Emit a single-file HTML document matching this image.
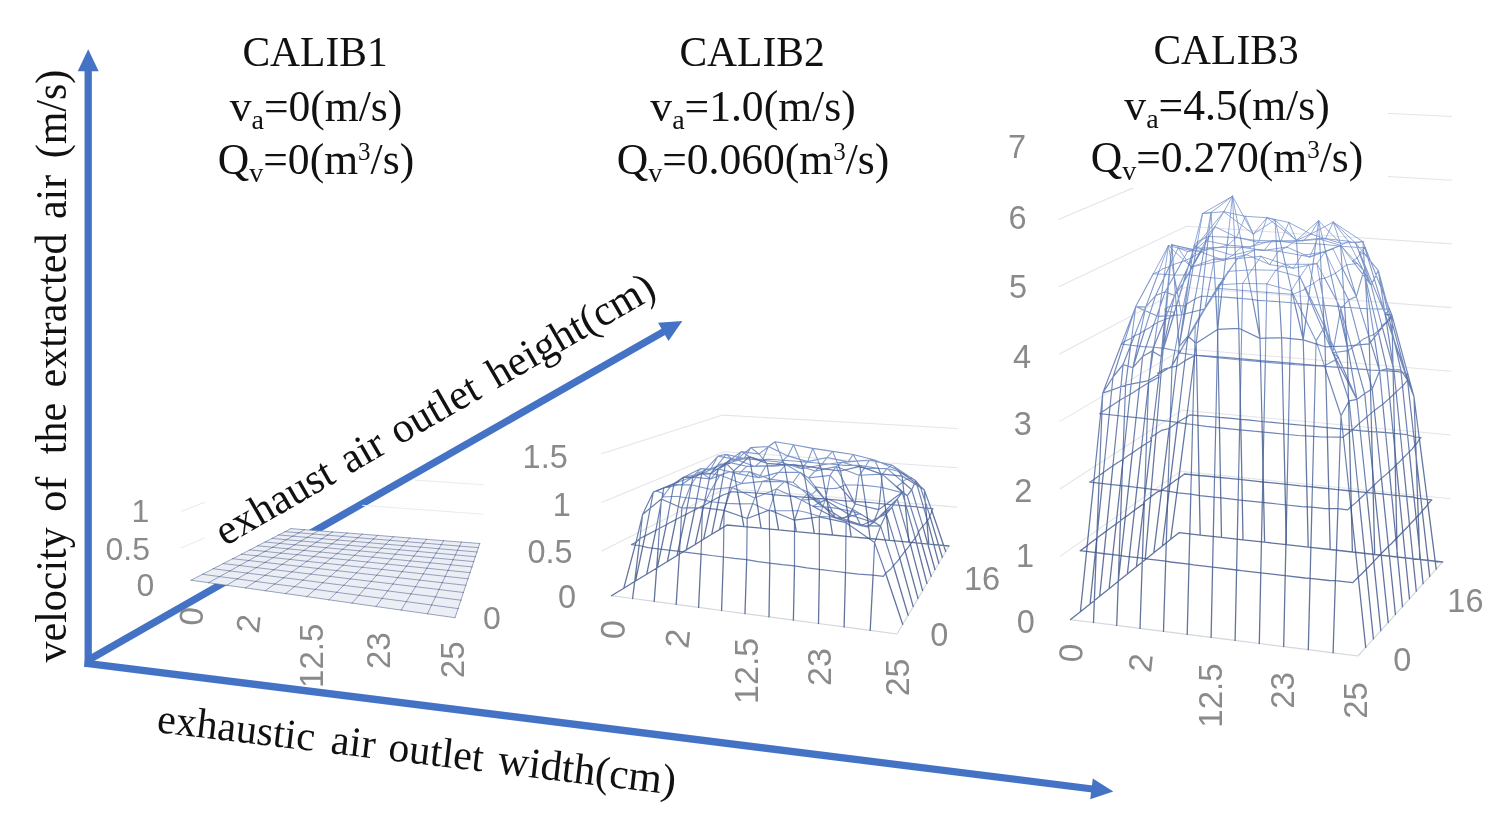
<!DOCTYPE html>
<html lang="en">
<head>
<meta charset="utf-8">
<title>Velocity of the extracted air - CALIB1, CALIB2, CALIB3</title>
<style>
html,body{margin:0;padding:0;background:#fff;}
body{width:1504px;height:819px;overflow:hidden;}
svg{display:block;}
text{white-space:pre;}
</style>
</head>
<body>
<svg width="1504" height="819" viewBox="0 0 1504 819">
<rect width="1504" height="819" fill="#fff"/>
<g id="axes">
<line x1="88.2" y1="667" x2="88.2" y2="70.3" stroke="#4472c4" stroke-width="7.3"/><polygon points="88.2,49.3 98.7,71.3 77.7,71.3" fill="#4472c4"/>
<line x1="87.6" y1="660.5" x2="664.2" y2="331.3" stroke="#4472c4" stroke-width="7.3"/><polygon points="682.4,320.9 668.5,340.9 658.1,322.7" fill="#4472c4"/>
<line x1="84.5" y1="663.1" x2="1092.5" y2="789" stroke="#4472c4" stroke-width="7.3"/><polygon points="1113.3,791.6 1090.2,799.3 1092.8,778.5" fill="#4472c4"/>
</g>
<g id="chart1">
<path d="M181 547.9L204.7 537.7M362.2 505.3L483.8 514.2" fill="none" stroke="#ebecf0" stroke-width="1.1"/>
<path d="M181 511.4L204.7 502.3M415.1 480.1L483.8 484.7" fill="none" stroke="#ebecf0" stroke-width="1.1"/>
<polygon points="191,580.2 455,617.7 479.8,543.5 291,528.6" fill="#eceef5"/>
<path d="M191 580.2L208.5 582.7M208.5 582.7L226.7 585.3M226.7 585.3L245.5 587.9M245.5 587.9L265.2 590.7M265.2 590.7L285.5 593.6M285.5 593.6L306.8 596.6M306.8 596.6L328.9 599.8M328.9 599.8L352 603.1M352 603.1L376 606.5M376 606.5L401.2 610.1M401.2 610.1L427.5 613.8M427.5 613.8L455 617.7M202.5 574.3L219.6 576.6M219.6 576.6L237.3 578.9M237.3 578.9L255.7 581.4M255.7 581.4L274.8 584M274.8 584L294.6 586.6M294.6 586.6L315.2 589.4M315.2 589.4L336.6 592.3M336.6 592.3L358.9 595.3M358.9 595.3L382.1 598.4M382.1 598.4L406.4 601.6M406.4 601.6L431.6 605M431.6 605L458.1 608.6M213.2 568.7L229.9 570.9M229.9 570.9L247.2 573.1M247.2 573.1L265.1 575.3M265.1 575.3L283.7 577.7M283.7 577.7L303 580.1M303 580.1L322.9 582.7M322.9 582.7L343.7 585.3M343.7 585.3L365.3 588M365.3 588L387.7 590.9M387.7 590.9L411.1 593.9M411.1 593.9L435.5 596.9M435.5 596.9L460.9 600.2M223.2 563.6L239.6 565.5M239.6 565.5L256.4 567.6M256.4 567.6L273.9 569.7M273.9 569.7L292 571.8M292 571.8L310.7 574.1M310.7 574.1L330.2 576.4M330.2 576.4L350.3 578.9M350.3 578.9L371.2 581.4M371.2 581.4L392.9 584M392.9 584L415.5 586.7M415.5 586.7L439 589.5M439 589.5L463.4 592.5M232.6 558.7L248.6 560.5M248.6 560.5L265.1 562.4M265.1 562.4L282.1 564.4M282.1 564.4L299.8 566.4M299.8 566.4L318 568.5M318 568.5L336.9 570.6M336.9 570.6L356.4 572.9M356.4 572.9L376.7 575.2M376.7 575.2L397.7 577.6M397.7 577.6L419.6 580.1M419.6 580.1L442.2 582.7M442.2 582.7L465.8 585.3M241.5 554.2L257.1 555.8M257.1 555.8L273.2 557.6M273.2 557.6L289.8 559.4M289.8 559.4L307 561.3M307 561.3L324.8 563.2M324.8 563.2L343.1 565.2M343.1 565.2L362.2 567.3M362.2 567.3L381.8 569.4M381.8 569.4L402.2 571.6M402.2 571.6L423.3 573.9M423.3 573.9L445.3 576.3M445.3 576.3L468 578.8M249.8 549.9L265.1 551.4M265.1 551.4L280.8 553.1M280.8 553.1L297.1 554.7M297.1 554.7L313.8 556.5M313.8 556.5L331.1 558.3M331.1 558.3L349 560.1M349 560.1L367.5 562M367.5 562L386.6 564M386.6 564L406.4 566.1M406.4 566.1L426.9 568.2M426.9 568.2L448.1 570.4M448.1 570.4L470.1 572.6M257.6 545.8L272.6 547.3M272.6 547.3L288 548.8M288 548.8L303.9 550.4M303.9 550.4L320.2 552M320.2 552L337.1 553.6M337.1 553.6L354.5 555.4M354.5 555.4L372.5 557.1M372.5 557.1L391.1 559M391.1 559L410.3 560.9M410.3 560.9L430.1 562.8M430.1 562.8L450.7 564.8M450.7 564.8L472 566.9M265.1 542L279.7 543.4M279.7 543.4L294.8 544.8M294.8 544.8L310.3 546.2M310.3 546.2L326.2 547.7M326.2 547.7L342.7 549.3M342.7 549.3L359.7 550.9M359.7 550.9L377.2 552.5M377.2 552.5L395.3 554.2M395.3 554.2L413.9 556M413.9 556L433.2 557.8M433.2 557.8L453.1 559.7M453.1 559.7L473.7 561.6M272.1 538.4L286.4 539.7M286.4 539.7L301.1 541M301.1 541L316.3 542.3M316.3 542.3L331.9 543.8M331.9 543.8L348 545.2M348 545.2L364.5 546.7M364.5 546.7L381.6 548.2M381.6 548.2L399.2 549.8M399.2 549.8L417.4 551.4M417.4 551.4L436.1 553.1M436.1 553.1L455.4 554.9M455.4 554.9L475.4 556.7M278.7 534.9L292.8 536.2M292.8 536.2L307.2 537.4M307.2 537.4L322 538.7M322 538.7L337.3 540M337.3 540L353 541.3M353 541.3L369.1 542.7M369.1 542.7L385.8 544.2M385.8 544.2L402.9 545.6M402.9 545.6L420.6 547.1M420.6 547.1L438.8 548.7M438.8 548.7L457.6 550.3M457.6 550.3L477 552M285 531.7L298.8 532.8M298.8 532.8L312.9 534M312.9 534L327.4 535.2M327.4 535.2L342.3 536.4M342.3 536.4L357.7 537.7M357.7 537.7L373.5 539M373.5 539L389.7 540.3M389.7 540.3L406.4 541.7M406.4 541.7L423.6 543.1M423.6 543.1L441.3 544.6M441.3 544.6L459.6 546.1M459.6 546.1L478.4 547.6M291 528.6L304.5 529.7M304.5 529.7L318.3 530.8M318.3 530.8L332.6 531.9M332.6 531.9L347.2 533M347.2 533L362.1 534.2M362.1 534.2L377.6 535.4M377.6 535.4L393.4 536.7M393.4 536.7L409.7 538M409.7 538L426.5 539.3M426.5 539.3L443.7 540.7M443.7 540.7L461.5 542.1M461.5 542.1L479.8 543.5M191 580.2L202.5 574.3M202.5 574.3L213.2 568.7M213.2 568.7L223.2 563.6M223.2 563.6L232.6 558.7M232.6 558.7L241.5 554.2M241.5 554.2L249.8 549.9M249.8 549.9L257.6 545.8M257.6 545.8L265.1 542M265.1 542L272.1 538.4M272.1 538.4L278.7 534.9M278.7 534.9L285 531.7M285 531.7L291 528.6M208.5 582.7L219.6 576.6M219.6 576.6L229.9 570.9M229.9 570.9L239.6 565.5M239.6 565.5L248.6 560.5M248.6 560.5L257.1 555.8M257.1 555.8L265.1 551.4M265.1 551.4L272.6 547.3M272.6 547.3L279.7 543.4M279.7 543.4L286.4 539.7M286.4 539.7L292.8 536.2M292.8 536.2L298.8 532.8M298.8 532.8L304.5 529.7M226.7 585.3L237.3 578.9M237.3 578.9L247.2 573.1M247.2 573.1L256.4 567.6M256.4 567.6L265.1 562.4M265.1 562.4L273.2 557.6M273.2 557.6L280.8 553.1M280.8 553.1L288 548.8M288 548.8L294.8 544.8M294.8 544.8L301.1 541M301.1 541L307.2 537.4M307.2 537.4L312.9 534M312.9 534L318.3 530.8M245.5 587.9L255.7 581.4M255.7 581.4L265.1 575.3M265.1 575.3L273.9 569.7M273.9 569.7L282.1 564.4M282.1 564.4L289.8 559.4M289.8 559.4L297.1 554.7M297.1 554.7L303.9 550.4M303.9 550.4L310.3 546.2M310.3 546.2L316.3 542.3M316.3 542.3L322 538.7M322 538.7L327.4 535.2M327.4 535.2L332.6 531.9M265.2 590.7L274.8 584M274.8 584L283.7 577.7M283.7 577.7L292 571.8M292 571.8L299.8 566.4M299.8 566.4L307 561.3M307 561.3L313.8 556.5M313.8 556.5L320.2 552M320.2 552L326.2 547.7M326.2 547.7L331.9 543.8M331.9 543.8L337.3 540M337.3 540L342.3 536.4M342.3 536.4L347.2 533M285.5 593.6L294.6 586.6M294.6 586.6L303 580.1M303 580.1L310.7 574.1M310.7 574.1L318 568.5M318 568.5L324.8 563.2M324.8 563.2L331.1 558.3M331.1 558.3L337.1 553.6M337.1 553.6L342.7 549.3M342.7 549.3L348 545.2M348 545.2L353 541.3M353 541.3L357.7 537.7M357.7 537.7L362.1 534.2M306.8 596.6L315.2 589.4M315.2 589.4L322.9 582.7M322.9 582.7L330.2 576.4M330.2 576.4L336.9 570.6M336.9 570.6L343.1 565.2M343.1 565.2L349 560.1M349 560.1L354.5 555.4M354.5 555.4L359.7 550.9M359.7 550.9L364.5 546.7M364.5 546.7L369.1 542.7M369.1 542.7L373.5 539M373.5 539L377.6 535.4M328.9 599.8L336.6 592.3M336.6 592.3L343.7 585.3M343.7 585.3L350.3 578.9M350.3 578.9L356.4 572.9M356.4 572.9L362.2 567.3M362.2 567.3L367.5 562M367.5 562L372.5 557.1M372.5 557.1L377.2 552.5M377.2 552.5L381.6 548.2M381.6 548.2L385.8 544.2M385.8 544.2L389.7 540.3M389.7 540.3L393.4 536.7M352 603.1L358.9 595.3M358.9 595.3L365.3 588M365.3 588L371.2 581.4M371.2 581.4L376.7 575.2M376.7 575.2L381.8 569.4M381.8 569.4L386.6 564M386.6 564L391.1 559M391.1 559L395.3 554.2M395.3 554.2L399.2 549.8M399.2 549.8L402.9 545.6M402.9 545.6L406.4 541.7M406.4 541.7L409.7 538M376 606.5L382.1 598.4M382.1 598.4L387.7 590.9M387.7 590.9L392.9 584M392.9 584L397.7 577.6M397.7 577.6L402.2 571.6M402.2 571.6L406.4 566.1M406.4 566.1L410.3 560.9M410.3 560.9L413.9 556M413.9 556L417.4 551.4M417.4 551.4L420.6 547.1M420.6 547.1L423.6 543.1M423.6 543.1L426.5 539.3M401.2 610.1L406.4 601.6M406.4 601.6L411.1 593.9M411.1 593.9L415.5 586.7M415.5 586.7L419.6 580.1M419.6 580.1L423.3 573.9M423.3 573.9L426.9 568.2M426.9 568.2L430.1 562.8M430.1 562.8L433.2 557.8M433.2 557.8L436.1 553.1M436.1 553.1L438.8 548.7M438.8 548.7L441.3 544.6M441.3 544.6L443.7 540.7M427.5 613.8L431.6 605M431.6 605L435.5 596.9M435.5 596.9L439 589.5M439 589.5L442.2 582.7M442.2 582.7L445.3 576.3M445.3 576.3L448.1 570.4M448.1 570.4L450.7 564.8M450.7 564.8L453.1 559.7M453.1 559.7L455.4 554.9M455.4 554.9L457.6 550.3M457.6 550.3L459.6 546.1M459.6 546.1L461.5 542.1M455 617.7L458.1 608.6M458.1 608.6L460.9 600.2M460.9 600.2L463.4 592.5M463.4 592.5L465.8 585.3M465.8 585.3L468 578.8M468 578.8L470.1 572.6M470.1 572.6L472 566.9M472 566.9L473.7 561.6M473.7 561.6L475.4 556.7M475.4 556.7L477 552M477 552L478.4 547.6M478.4 547.6L479.8 543.5" fill="none" stroke="#5a6b92" stroke-width="1" stroke-opacity="0.6" stroke-linecap="round"/>
</g>
<g id="chart2">
<path d="M601.5 551.2L725.6 488.4L957.3 507.1M601.5 502.4L724.1 451.7L957.7 467.8M601.5 453.7L722.7 415.1L958 428.5" fill="none" stroke="#e4e5e9" stroke-width="1.1"/>
<path d="M611.5 595.7L632.6 598.5M632.6 598.5L654.2 601.4M654.2 601.4L676.2 604.4M676.2 604.4L698.6 607.4M698.6 607.4L721.6 610.5M721.6 610.5L745 613.6M745 613.6L769 616.8M769 616.8L793.4 620.1M793.4 620.1L818.5 623.5M818.5 623.5L844.1 626.9M844.1 626.9L870.2 630.4M870.2 630.4L897 634M897 634L902.7 624.3M902.7 624.3L908.1 615.2M908.1 615.2L913.2 606.6M913.2 606.6L918 598.4M918 598.4L922.6 590.7M922.6 590.7L926.9 583.3M926.9 583.3L931.1 576.3M931.1 576.3L935 569.7M935 569.7L938.8 563.3M938.8 563.3L942.3 557.3M942.3 557.3L945.7 551.5M945.7 551.5L949 546" fill="none" stroke="#d4d7de" stroke-width="1.2"/>
<path d="M768.2 510.4L769.3 510M769.3 510L771.2 510.8M656.3 490.9L671.6 484.9M671.6 484.9L690.9 484.8M690.9 484.8L711.3 489.5M711.3 489.5L731.9 487.2M731.9 487.2L754.8 498M754.8 498L776.3 489.1M776.3 489.1L801.3 500.1M801.3 500.1L825.8 498.2M825.8 498.2L852.8 509.3M852.8 509.3L860.5 513.9M670.1 486.6L682.2 484.3M682.2 484.3L700.2 472M700.2 472L720 475.1M720 475.1L741.4 483.6M741.4 483.6L762.3 481.4M762.3 481.4L784.5 481.7M784.5 481.7L809 492.4M809 492.4L819.5 502.6M678.4 482L691.9 477.1M691.9 477.1L710.7 478.9M710.7 478.9L729.4 471.7M729.4 471.7L749.4 471.7M749.4 471.7L771.1 479.4M771.1 479.4L793.2 482.3M793.2 482.3L808.4 495.2M683.6 477.3L701 468.6M701 468.6L719.3 469.2M719.3 469.2L738.8 473.9M738.8 473.9L758.9 477.7M758.9 477.7L778.8 472.4M778.8 472.4L800.2 472.3M800.2 472.3L816.5 490.2M700.3 474L710.2 469.9M710.2 469.9L727.7 462.1M727.7 462.1L746.7 466.3M746.7 466.3L766 465.7M766 465.7L786 464.5M786 464.5L808.5 477.9M808.5 477.9L830.1 475.4M830.1 475.4L840.2 486.9M901.9 492.6L902.2 492.4M902.2 492.4L902.3 492.7M705.3 469.9L718 456.1M718 456.1L736 459.5M736 459.5L755 466.4M755 466.4L774.1 466.1M774.1 466.1L793.7 464.2M793.7 464.2L815 471.1M815 471.1L835.9 466.6M835.9 466.6L859.1 475.3M859.1 475.3L882.2 474.1M882.2 474.1L896.8 486.7M716.5 466.4L726.2 454.3M726.2 454.3L744 458.6M744 458.6L762.3 460.3M762.3 460.3L781.3 462.2M781.3 462.2L801.5 468.7M801.5 468.7L821.3 465M821.3 465L842 462.2M842 462.2L864.4 468.3M864.4 468.3L887.2 468.6M887.2 468.6L902.9 482M729.7 463.3L734.7 461.1M734.7 461.1L750.8 447.6M750.8 447.6L768.4 446.5M768.4 446.5L787.9 455.9M787.9 455.9L807.6 461.6M807.6 461.6L827 457.5M827 457.5L848.1 461.9M848.1 461.9L869.4 460M869.4 460L892.1 465.1M892.1 465.1L911.5 477.9M730.6 459.4L741.6 451.5M741.6 451.5L758.9 454M758.9 454L775.1 441.8M775.1 441.8L793.5 444.7M793.5 444.7L812.7 448.4M812.7 448.4L832.6 451.4M832.6 451.4L853.2 454.5M853.2 454.5L874.7 460M874.7 460L897.2 469.7M897.2 469.7L901.1 472.5M749 457L749.4 456.8M749.4 456.8L750.3 457.1M662.8 497L671.6 484.9M671.6 484.9L682.2 484.3M682.2 484.3L691.9 477.1M691.9 477.1L701 468.6M701 468.6L710.2 469.9M710.2 469.9L718 456.1M718 456.1L726.2 454.3M726.2 454.3L734.7 461.1M734.7 461.1L741.6 451.5M741.6 451.5L749.4 456.8M749.4 456.8L749.4 457.1M685.8 497.8L690.9 484.8M690.9 484.8L700.2 472M700.2 472L710.7 478.9M710.7 478.9L719.3 469.2M719.3 469.2L727.7 462.1M727.7 462.1L736 459.5M736 459.5L744 458.6M744 458.6L750.8 447.6M750.8 447.6L758.9 454M758.9 454L763.7 459.6M706 500.4L711.3 489.5M711.3 489.5L720 475.1M720 475.1L729.4 471.7M729.4 471.7L738.8 473.9M738.8 473.9L746.7 466.3M746.7 466.3L755 466.4M755 466.4L762.3 460.3M762.3 460.3L768.4 446.5M768.4 446.5L775.1 441.8M775.1 441.8L782.6 460.2M726.4 503.4L731.9 487.2M731.9 487.2L741.4 483.6M741.4 483.6L749.4 471.7M749.4 471.7L758.9 477.7M758.9 477.7L766 465.7M766 465.7L774.1 466.1M774.1 466.1L781.3 462.2M781.3 462.2L787.9 455.9M787.9 455.9L793.5 444.7M793.5 444.7L800.8 461.6M752.7 503.6L754.8 498M754.8 498L762.3 481.4M762.3 481.4L771.1 479.4M771.1 479.4L778.8 472.4M778.8 472.4L786 464.5M786 464.5L793.7 464.2M793.7 464.2L801.5 468.7M801.5 468.7L807.6 461.6M807.6 461.6L812.7 448.4M812.7 448.4L819.1 463.2M769.3 510.6L769.3 510M769.3 510L776.3 489.1M776.3 489.1L784.5 481.7M784.5 481.7L793.2 482.3M793.2 482.3L800.2 472.3M800.2 472.3L808.5 477.9M808.5 477.9L815 471.1M815 471.1L821.3 465M821.3 465L827 457.5M827 457.5L832.6 451.4M832.6 451.4L838.2 464.8M797.8 510.5L801.3 500.1M801.3 500.1L809 492.4M809 492.4L814.2 498.5M827.5 488.7L830.1 475.4M830.1 475.4L835.9 466.6M835.9 466.6L842 462.2M842 462.2L848.1 461.9M848.1 461.9L853.2 454.5M853.2 454.5L859.4 465.4M819.5 516.3L825.8 498.2M825.8 498.2L830.4 507.4M857.8 485L859.1 475.3M859.1 475.3L864.4 468.3M864.4 468.3L869.4 460M869.4 460L874.7 460M874.7 460L878.4 468.2M849.1 516.7L852.8 509.3M852.8 509.3L854.2 512M881 487.3L882.2 474.1M882.2 474.1L887.2 468.6M887.2 468.6L892.1 465.1M892.1 465.1L897.2 469.7M897.2 469.7L898.4 471.2M901.1 493.8L902.2 492.4M902.2 492.4L902.4 492.5M683.6 477.3L683.6 477.3M683.6 477.3L683.6 477.3M683.6 477.3L683.6 477.3M683.6 477.3L683.6 477.3M662.8 497L663.3 493.5M663.3 493.5L656.3 490.9M670.1 486.6L665.4 487.2M665.4 487.2L656.3 490.9M670.1 486.6L670.2 485.4M670.2 485.4L678.4 482M678.4 482L678.5 481.1M678.5 481.1L683.6 477.3M700.3 474L695.1 474.9M695.1 474.9L683.6 477.3M700.3 474L698.1 472.9M698.1 472.9L705.3 469.9M716.5 466.4L713.1 467.7M713.1 467.7L705.3 469.9M729.7 463.3L720.8 464M720.8 464L716.5 466.4M729.7 463.3L727.8 461.6M727.8 461.6L730.6 459.4M749 457L738.8 458.7M738.8 458.7L730.6 459.4M749.4 457.1L749.3 457M749.3 457L749 457M685.8 497.8L676.6 496.3M676.6 496.3L662.8 497M763.7 459.6L757.6 459M757.6 459L750.3 457.1M750.3 457.1L749.5 457.1M749.5 457.1L749.4 457.1M706 500.4L696.8 498.6M696.8 498.6L685.8 497.8M782.6 460.2L768.4 459.2M768.4 459.2L763.7 459.6M726.4 503.4L711 501.7M711 501.7L706 500.4M800.8 461.6L797.5 461.3M797.5 461.3L782.6 460.2M752.7 503.6L740 503.9M740 503.9L726.4 503.4M819.1 463.2L814.5 462.8M814.5 462.8L800.8 461.6M769.3 510.6L769.2 510.6M769.2 510.6L768.2 510.4M768.2 510.4L759 506.5M759 506.5L752.7 503.6M838.2 464.8L832.4 464.3M832.4 464.3L819.1 463.2M771.2 510.8L769.4 510.6M769.4 510.6L769.3 510.6M797.8 510.5L789 510.7M789 510.7L771.2 510.8M814.2 498.5L808.2 497M808.2 497L808.4 495.2M816.5 490.2L812.6 493.8M812.6 493.8L808.4 495.2M827.5 488.7L815.4 486.9M815.4 486.9L816.5 490.2M859.4 465.4L844.8 465.4M844.8 465.4L838.2 464.8M819.5 516.3L805.7 512.3M805.7 512.3L797.8 510.5M830.4 507.4L813 506.3M813 506.3L819.5 502.6M819.5 502.6L819.7 500.6M819.7 500.6L814.2 498.5M840.2 486.9L836.6 488.4M836.6 488.4L827.5 488.7M857.8 485L845.4 484.7M845.4 484.7L840.2 486.9M878.4 468.2L871.7 467.4M871.7 467.4L859.4 465.4M849.1 516.7L842 517.7M842 517.7L819.5 516.3M854.2 512L839.6 508.9M839.6 508.9L830.4 507.4M881 487.3L865 485.4M865 485.4L857.8 485M898.4 471.2L890.4 469.2M890.4 469.2L878.4 468.2M860.5 513.9L856.3 514.6M856.3 514.6L849.1 516.7M854.2 512L860.5 513.9M901.1 493.8L901.9 492.7M901.9 492.7L901.9 492.6M902.4 492.5L896.8 486.7M881 487.3L901.9 492.6M902.9 482L899.3 484.8M899.3 484.8L896.8 486.7M911.5 477.9L904.2 480.3M904.2 480.3L902.9 482M911.5 477.9L905.7 475.2M905.7 475.2L901.1 472.5M901.1 472.5L900.3 471.9M900.3 471.9L898.4 471.2M902.3 492.7L902.3 492.7M902.3 492.7L901.1 493.8M902.3 492.7L902.3 492.6M902.3 492.6L902.4 492.5M744 458.6L734.7 461.1M815.4 486.9L808.5 477.9M801.3 500.1L813 506.3M845.4 484.7L835.9 466.6M902.2 492.4L882.2 474.1" fill="none" stroke="#6380bc" stroke-width="1.1" stroke-opacity="0.82" stroke-linecap="round"/>
<path d="M636 542.2L642.6 514.5M642.6 514.5L661.3 499M661.3 499L681.8 508M681.8 508L702.4 507.6M702.4 507.6L724.1 510.4M724.1 510.4L747.2 518.5M747.2 518.5L768.2 510.4M771.2 510.8L794.5 520.2M794.5 520.2L819.3 516.8M819.3 516.8L846.1 522.7M846.1 522.7L874.6 542.6M874.6 542.6L885.6 573.3M645 535.9L653.3 492.1M653.3 492.1L656.3 490.9M860.5 513.9L880.6 526.1M880.6 526.1L893.4 565.5M655.9 530.2L663.9 487.7M663.9 487.7L670.1 486.6M819.5 502.6L835.6 518.2M835.6 518.2L860.9 525.7M860.9 525.7L886.3 514M886.3 514L899.8 558.1M666.3 524.8L674 483.6M674 483.6L678.4 482M808.4 495.2L818.2 503.4M818.2 503.4L842.9 518.7M842.9 518.7L867.5 526.8M867.5 526.8L892 507.1M892 507.1L905.1 551M675.9 519.5L683.6 477.3M816.5 490.2L825.3 499.9M825.3 499.9L849.4 514.8M849.4 514.8L873.4 522.5M873.4 522.5L897.2 499M897.2 499L910.4 544.3M685.7 514.6L692.9 477.2M692.9 477.2L700.3 474M840.2 486.9L855.1 504M855.1 504L878.7 509.7M878.7 509.7L901.9 492.6M902.3 492.7L915.2 538M694.7 509.9L701.7 473.6M701.7 473.6L705.3 469.9M896.8 486.7L907.2 495.8M907.2 495.8L918.4 531.8M703.8 505.4L710.3 474M710.3 474L716.5 466.4M902.9 482L911.7 489.7M911.7 489.7L922.8 526.1M711.8 501L718.2 468.5M718.2 468.5L729.7 463.3M911.5 477.9L915.8 480.8M915.8 480.8L927.5 520.7M719.4 496.9L725.7 462.9M725.7 462.9L730.6 459.4M901.1 472.5L920.1 486.1M920.1 486.1L929.7 515.4M728.6 493L733.7 470.9M733.7 470.9L749 457M750.3 457.1L766.8 463.3M766.8 463.3L784.4 464.6M784.4 464.6L802.5 465.6M802.5 465.6L821.3 468.6M821.3 468.6L840.6 471M840.6 471L859.9 466.4M859.9 466.4L880.9 473.9M880.9 473.9L902.1 476.1M902.1 476.1L924.2 489.7M924.2 489.7L931.7 510.3M639.1 545.5L642.6 514.5M642.6 514.5L653.3 492.1M653.3 492.1L663.9 487.7M663.9 487.7L674 483.6M674 483.6L683.6 477.3M683.6 477.3L692.9 477.2M692.9 477.2L701.7 473.6M701.7 473.6L710.3 474M710.3 474L718.2 468.5M718.2 468.5L725.7 462.9M725.7 462.9L733.7 470.9M733.7 470.9L737.6 492.1M658.1 548.9L661.3 499M661.3 499L662.8 497M749.4 457.1L755.5 493M679.6 551.3L681.8 508M681.8 508L685.8 497.8M763.7 459.6L766.8 463.3M766.8 463.3L772.5 494.6M701.1 554.1L702.4 507.6M702.4 507.6L706 500.4M782.6 460.2L784.4 464.6M784.4 464.6L790.2 496.1M723.4 557L724.1 510.4M724.1 510.4L726.4 503.4M800.8 461.6L802.5 465.6M802.5 465.6L808.4 497.6M746.7 559.6L747.2 518.5M747.2 518.5L752.7 503.6M819.1 463.2L821.3 468.6M821.3 468.6L826.8 499.2M769.8 563.1L769.3 510.6M838.2 464.8L840.6 471M840.6 471L845.8 500.8M794.5 565.9L794.5 520.2M794.5 520.2L797.8 510.5M814.2 498.5L818.2 503.4M818.2 503.4L825.3 499.9M825.3 499.9L827.5 488.7M859.4 465.4L859.9 466.4M859.9 466.4L865.4 502.2M819.4 569.4L819.3 516.8M819.3 516.8L819.5 516.3M830.4 507.4L835.6 518.2M835.6 518.2L842.9 518.7M842.9 518.7L849.4 514.8M849.4 514.8L855.1 504M855.1 504L857.8 485M878.4 468.2L880.9 473.9M880.9 473.9L885 504.1M845.5 572.6L846.1 522.7M846.1 522.7L849.1 516.7M854.2 512L860.9 525.7M860.9 525.7L867.5 526.8M867.5 526.8L873.4 522.5M873.4 522.5L878.7 509.7M878.7 509.7L881 487.3M898.4 471.2L902.1 476.1M902.1 476.1L905.4 505.8M873.1 575.1L874.6 542.6M874.6 542.6L880.6 526.1M880.6 526.1L886.3 514M886.3 514L892 507.1M892 507.1L897.2 499M897.2 499L901.1 493.8M902.4 492.5L907.2 495.8M907.2 495.8L911.7 489.7M911.7 489.7L915.8 480.8M915.8 480.8L920.1 486.1M920.1 486.1L924.2 489.7M924.2 489.7L925.8 508.1M639.1 545.5L631.5 544.6M631.5 544.6L636 542.2M636 542.2L639.5 538.8M639.5 538.8L645 535.9M655.9 530.2L650.4 533.1M650.4 533.1L645 535.9M666.3 524.8L661 527.5M661 527.5L655.9 530.2M666.3 524.8L671 522.1M671 522.1L675.9 519.5M685.7 514.6L680.7 517M680.7 517L675.9 519.5M694.7 509.9L690 512.3M690 512.3L685.7 514.6M703.8 505.4L698.9 507.7M698.9 507.7L694.7 509.9M703.8 505.4L708.1 503M708.1 503L711.8 501M711.8 501L715.7 498.8M715.7 498.8L719.4 496.9M728.6 493L723 495M723 495L719.4 496.9M737.6 492.1L731.3 491.6M731.3 491.6L728.6 493M658.1 548.9L648 547.6M648 547.6L639.1 545.5M755.5 493L746.9 492.3M746.9 492.3L737.6 492.1M679.6 551.3L668.5 550.2M668.5 550.2L658.1 548.9M772.5 494.6L764.1 493.7M764.1 493.7L755.5 493M701.1 554.1L690.8 552.8M690.8 552.8L679.6 551.3M790.2 496.1L780.7 495.3M780.7 495.3L772.5 494.6M723.4 557L711.6 555.5M711.6 555.5L701.1 554.1M808.4 497.6L799.8 496.9M799.8 496.9L790.2 496.1M746.7 559.6L734.2 558.3M734.2 558.3L723.4 557M826.8 499.2L817 498.3M817 498.3L808.4 497.6M769.8 563.1L757.8 561.6M757.8 561.6L746.7 559.6M845.8 500.8L835.4 499.9M835.4 499.9L826.8 499.2M794.5 565.9L782 564.7M782 564.7L769.8 563.1M865.4 502.2L855.8 501.4M855.8 501.4L845.8 500.8M819.4 569.4L806.8 567.8M806.8 567.8L794.5 565.9M885 504.1L875.1 503M875.1 503L865.4 502.2M845.5 572.6L832.3 571M832.3 571L819.4 569.4M905.4 505.8L894.1 504.8M894.1 504.8L885 504.1M873.1 575.1L858.4 574.2M858.4 574.2L845.5 572.6M925.8 508.1L914.6 506.6M914.6 506.6L905.4 505.8M885.6 573.3L883.3 576.4M883.3 576.4L873.1 575.1M893.4 565.5L890.8 569M890.8 569L885.6 573.3M899.8 558.1L897.2 561.6M897.2 561.6L893.4 565.5M905.1 551L902.6 554.4M902.6 554.4L899.8 558.1M910.4 544.3L908 547.6M908 547.6L905.1 551M915.2 538L912.9 541.1M912.9 541.1L910.4 544.3M915.2 538L917.5 534.9M917.5 534.9L918.4 531.8M922.8 526.1L920.9 528.7M920.9 528.7L918.4 531.8M927.5 520.7L925.5 523.3M925.5 523.3L922.8 526.1M927.5 520.7L929.3 518.1M929.3 518.1L929.7 515.4M929.7 515.4L931.2 513.3M931.2 513.3L931.7 510.3M931.7 510.3L932.9 508.7M932.9 508.7L925.8 508.1M825.3 499.9L815.4 486.9M813 506.3L835.6 518.2M855.1 504L845.4 484.7M880.6 526.1L860.9 525.7" fill="none" stroke="#4a649e" stroke-width="1.2" stroke-opacity="0.82" stroke-linecap="round"/>
<path d="M623.8 588.2L636 542.2M885.6 573.3L902.7 624.3M635.5 581L645 535.9M893.4 565.5L908.1 615.2M646.7 574.2L655.9 530.2M899.8 558.1L913.2 606.6M657.3 567.7L666.3 524.8M905.1 551L918 598.4M667.4 561.5L675.9 519.5M910.4 544.3L922.6 590.7M677.1 555.5L685.7 514.6M915.2 538L926.9 583.3M686.3 549.9L694.7 509.9M918.4 531.8L931.1 576.3M695.2 544.5L703.8 505.4M922.8 526.1L935 569.7M703.6 539.3L711.8 501M927.5 520.7L938.8 563.3M711.7 534.3L719.4 496.9M929.7 515.4L942.3 557.3M719.5 529.6L728.6 493M931.7 510.3L945.7 551.5M727 525L743.9 526.6M743.9 526.6L761.1 528.2M761.1 528.2L778.6 529.9M778.6 529.9L796.3 531.6M796.3 531.6L814.3 533.3M814.3 533.3L832.6 535M832.6 535L851.2 536.8M851.2 536.8L870.1 538.5M870.1 538.5L889.4 540.4M889.4 540.4L908.9 542.2M908.9 542.2L928.8 544.1M928.8 544.1L949 546M611.5 595.7L623.8 588.2M623.8 588.2L635.5 581M635.5 581L646.7 574.2M646.7 574.2L657.3 567.7M657.3 567.7L667.4 561.5M667.4 561.5L677.1 555.5M677.1 555.5L686.3 549.9M686.3 549.9L695.2 544.5M695.2 544.5L703.6 539.3M703.6 539.3L711.7 534.3M711.7 534.3L719.5 529.6M719.5 529.6L727 525M632.6 598.5L639.1 545.5M737.6 492.1L743.9 526.6M654.2 601.4L658.1 548.9M755.5 493L761.1 528.2M676.2 604.4L679.6 551.3M772.5 494.6L778.6 529.9M698.6 607.4L701.1 554.1M790.2 496.1L796.3 531.6M721.6 610.5L723.4 557M808.4 497.6L814.3 533.3M745 613.6L746.7 559.6M826.8 499.2L832.6 535M769 616.8L769.8 563.1M845.8 500.8L851.2 536.8M793.4 620.1L794.5 565.9M865.4 502.2L870.1 538.5M818.5 623.5L819.4 569.4M885 504.1L889.4 540.4M844.1 626.9L845.5 572.6M905.4 505.8L908.9 542.2M870.2 630.4L873.1 575.1M925.8 508.1L928.8 544.1" fill="none" stroke="#3f5486" stroke-width="1.3" stroke-opacity="0.82" stroke-linecap="round"/>
</g>
<g id="chart3">
<path d="M1060.1 556.4L1180.5 471.4L1450.8 498.7M1059.8 489L1182 410.1L1451 435M1059.4 421.6L1183.5 348.8L1451.2 371.3M1059.1 354.2L1185 287.5L1451.4 307.6M1058.7 286.8L1186.5 226.2L1451.6 243.9M1058.4 219.4L1188 164.9L1451.8 180.2" fill="none" stroke="#e4e5e9" stroke-width="1.1"/>
<path d="M1385.1 113.2L1452 116.5" fill="none" stroke="#e4e5e9" stroke-width="1.1"/>
<rect x="1122" y="20" width="266" height="168" fill="#fff"/>
<path d="M1070.5 619.6L1093.5 622.5M1093.5 622.5L1116.7 625.4M1116.7 625.4L1140 628.4M1140 628.4L1163.5 631.4M1163.5 631.4L1187.2 634.4M1187.2 634.4L1211.1 637.4M1211.1 637.4L1235.1 640.4M1235.1 640.4L1259.3 643.5M1259.3 643.5L1283.7 646.6M1283.7 646.6L1308.3 649.7M1308.3 649.7L1333.1 652.8M1333.1 652.8L1358 656M1358 656L1365.7 647.4M1365.7 647.4L1373.4 638.9M1373.4 638.9L1380.8 630.6M1380.8 630.6L1388.2 622.5M1388.2 622.5L1395.4 614.4M1395.4 614.4L1402.5 606.6M1402.5 606.6L1409.5 598.8M1409.5 598.8L1416.3 591.2M1416.3 591.2L1423.1 583.7M1423.1 583.7L1429.7 576.4M1429.7 576.4L1436.2 569.1M1436.2 569.1L1442.6 562" fill="none" stroke="#d4d7de" stroke-width="1.2"/>
<path d="M1216.8 288.2L1218.8 284.9M1218.8 284.9L1242.7 283.4M1242.7 283.4L1266.9 283.9M1266.9 283.9L1291.3 290.7M1291.3 290.7L1293.1 294.3M1221.4 282.3L1228.2 271.4M1228.2 271.4L1251.9 269.8M1251.9 269.8L1275.8 270.3M1275.8 270.3L1300 276.9M1300 276.9L1306 289M1158.9 271.5L1168.4 245.6M1168.4 245.6L1191.2 267M1191.2 267L1214.2 259M1214.2 259L1237.5 258.6M1237.5 258.6L1260.9 256.3M1260.9 256.3L1284.6 264.3M1284.6 264.3L1308.6 264.3M1308.6 264.3L1313.8 283.4M1169.4 266.5L1178.2 248M1178.2 248L1200.7 251.9M1200.7 251.9L1223.5 260.2M1223.5 260.2L1246.5 254.6M1246.5 254.6L1269.8 264.6M1269.8 264.6L1293.2 268.2M1293.2 268.2L1316.9 263.6M1316.9 263.6L1324.7 278.2M1181.9 261.7L1187.6 251.5M1187.6 251.5L1210 248.7M1210 248.7L1232.6 255.3M1232.6 255.3L1255.4 249.6M1255.4 249.6L1278.4 251.3M1278.4 251.3L1301.6 255.4M1301.6 255.4L1325 251.9M1325 251.9L1335.4 273.2M1192.8 257L1196.9 248.2M1196.9 248.2L1219.1 247.4M1219.1 247.4L1241.4 247.3M1241.4 247.3L1264 250.4M1264 250.4L1286.8 247.1M1286.8 247.1L1309.7 257M1309.7 257L1333 248.7M1333 248.7L1342.3 268M1199.9 252.1L1206 240.7M1206 240.7L1227.9 245.1M1227.9 245.1L1250.1 247M1250.1 247L1272.4 240.5M1272.4 240.5L1295 241M1295 241L1317.8 238.6M1317.8 238.6L1340.7 245.4M1340.7 245.4L1357.3 263.5M1196 246.6L1215 226.7M1215 226.7L1236.6 237.3M1236.6 237.3L1258.5 242.4M1258.5 242.4L1280.7 241.5M1280.7 241.5L1303 240.7M1303 240.7L1325.5 238.7M1325.5 238.7L1348.3 241.2M1348.3 241.2L1357 258.1M1197.6 241.6L1202.5 213.5M1202.5 213.5L1223.8 211.7M1223.8 211.7L1245.3 216.3M1245.3 216.3L1266.9 217.7M1266.9 217.7L1288.8 222.4M1288.8 222.4L1310.8 234.1M1310.8 234.1L1333.2 222.1M1333.2 222.1L1355.6 243M1355.6 243L1364.1 253.3M1206.5 237.2L1211.1 212.4M1211.1 212.4L1232.5 196.2M1232.5 196.2L1253.3 234.1M1253.3 234.1L1275 219.8M1275 219.8L1296.5 240.3M1296.5 240.3L1318.6 220.7M1318.6 220.7L1340.5 243.3M1340.5 243.3L1362.9 241.6M1362.9 241.6L1364.9 248.2M1194.1 245.9L1202.5 213.5M1202.5 213.5L1211.1 212.4M1211.1 212.4L1212.5 236.6M1164.4 274.3L1168.4 245.6M1168.4 245.6L1178.2 248M1178.2 248L1187.6 251.5M1187.6 251.5L1196.9 248.2M1196.9 248.2L1206 240.7M1206 240.7L1215 226.7M1215 226.7L1223.8 211.7M1223.8 211.7L1232.5 196.2M1232.5 196.2L1234.5 237.6M1189.6 274.8L1191.2 267M1191.2 267L1200.7 251.9M1200.7 251.9L1210 248.7M1210 248.7L1219.1 247.4M1219.1 247.4L1227.9 245.1M1227.9 245.1L1236.6 237.3M1236.6 237.3L1245.3 216.3M1245.3 216.3L1253.3 234.1M1253.3 234.1L1253.7 240.2M1210.7 277.7L1214.2 259M1214.2 259L1223.5 260.2M1223.5 260.2L1232.6 255.3M1232.6 255.3L1241.4 247.3M1241.4 247.3L1250.1 247M1250.1 247L1258.5 242.4M1258.5 242.4L1266.9 217.7M1266.9 217.7L1275 219.8M1275 219.8L1276.2 241.1M1218.7 288.4L1218.8 284.9M1218.8 284.9L1228.2 271.4M1228.2 271.4L1237.5 258.6M1237.5 258.6L1246.5 254.6M1246.5 254.6L1255.4 249.6M1255.4 249.6L1264 250.4M1264 250.4L1272.4 240.5M1272.4 240.5L1280.7 241.5M1280.7 241.5L1288.8 222.4M1288.8 222.4L1296.5 240.3M1296.5 240.3L1296.7 243.3M1242.5 290.4L1242.7 283.4M1242.7 283.4L1251.9 269.8M1251.9 269.8L1260.9 256.3M1260.9 256.3L1269.8 264.6M1269.8 264.6L1278.4 251.3M1278.4 251.3L1286.8 247.1M1286.8 247.1L1295 241M1295 241L1303 240.7M1303 240.7L1310.8 234.1M1310.8 234.1L1318.6 220.7M1318.6 220.7L1319.8 244.1M1266.7 292.3L1266.9 283.9M1266.9 283.9L1275.8 270.3M1275.8 270.3L1284.6 264.3M1284.6 264.3L1293.2 268.2M1293.2 268.2L1301.6 255.4M1301.6 255.4L1309.7 257M1309.7 257L1317.8 238.6M1317.8 238.6L1325.5 238.7M1325.5 238.7L1333.2 222.1M1333.2 222.1L1340.5 243.3M1340.5 243.3L1340.7 246.3M1291.3 294.2L1291.3 290.7M1291.3 290.7L1300 276.9M1300 276.9L1308.6 264.3M1308.6 264.3L1316.9 263.6M1316.9 263.6L1325 251.9M1325 251.9L1333 248.7M1333 248.7L1340.7 245.4M1340.7 245.4L1348.3 241.2M1348.3 241.2L1355.6 243M1355.6 243L1362.9 241.6M1362.9 241.6L1363.3 247.7M1171.9 244.9L1171.9 244.9M1171.9 244.9L1171.9 244.9M1171.9 244.9L1171.9 244.9M1171.9 244.9L1171.9 244.9M1171.9 244.9L1171.9 244.9M1194.1 245.9L1197.6 241.6M1171.9 244.9L1171.9 244.9M1197.6 241.6L1205.1 238M1205.1 238L1206.5 237.2M1212.5 236.6L1208.5 236.4M1208.5 236.4L1206.5 237.2M1164.4 274.3L1153.3 273.8M1153.3 273.8L1158.9 271.5M1169.4 266.5L1162.4 269M1162.4 269L1158.9 271.5M1181.9 261.7L1173.3 264.6M1173.3 264.6L1169.4 266.5M1192.8 257L1184.9 260.8M1184.9 260.8L1181.9 261.7M1192.8 257L1198.8 253.3M1198.8 253.3L1199.9 252.1M1199.9 252.1L1202.4 249.2M1202.4 249.2L1196 246.6M1196 246.6L1196 246.1M1196 246.1L1194.1 245.9M1234.5 237.6L1228 237.2M1228 237.2L1212.5 236.6M1189.6 274.8L1174 275.2M1174 275.2L1164.4 274.3M1253.7 240.2L1240.6 238.1M1240.6 238.1L1234.5 237.6M1210.7 277.7L1203.8 276.8M1203.8 276.8L1189.6 274.8M1276.2 241.1L1272.4 240.9M1272.4 240.9L1253.7 240.2M1218.7 288.4L1218.4 288.4M1218.4 288.4L1216.8 288.2M1216.8 288.2L1220.5 283.7M1220.5 283.7L1221.4 282.3M1221.4 282.3L1224.3 278.9M1224.3 278.9L1210.7 277.7M1296.7 243.3L1280.1 241.4M1280.1 241.4L1276.2 241.1M1242.5 290.4L1242.1 290.3M1242.1 290.3L1218.7 288.4M1319.8 244.1L1315.7 243.8M1315.7 243.8L1296.7 243.3M1266.7 292.3L1266.1 292.3M1266.1 292.3L1242.5 290.4M1340.7 246.3L1324 244.4M1324 244.4L1319.8 244.1M1291.3 294.2L1267.3 292.4M1267.3 292.4L1266.7 292.3M1363.3 247.7L1362 247.7M1362 247.7L1340.7 246.3M1293.1 294.3L1291.5 294.2M1291.5 294.2L1291.3 294.2M1306 289L1303.3 290M1303.3 290L1293.1 294.3M1306 289L1304.8 288M1304.8 288L1313.8 283.4M1324.7 278.2L1319.6 278.9M1319.6 278.9L1313.8 283.4M1335.4 273.2L1331.5 275.3M1331.5 275.3L1324.7 278.2M1335.4 273.2L1338.4 271M1338.4 271L1342.3 268M1357.3 263.5L1346.6 264.9M1346.6 264.9L1342.3 268M1357.3 263.5L1352.7 261M1352.7 261L1357 258.1M1364.1 253.3L1359.8 254.4M1359.8 254.4L1357 258.1M1364.1 253.3L1359.5 252.3M1359.5 252.3L1364.9 248.2M1364.9 248.2L1365.3 247.8M1365.3 247.8L1363.3 247.7M1211.1 212.4L1208.5 236.4M1153.3 273.8L1168.4 245.6M1202.4 249.2L1215 226.7M1196 246.1L1223.8 211.7M1202.5 213.5L1232.5 196.2M1232.5 196.2L1228 237.2M1174 275.2L1168.4 245.6M1191.2 267L1178.2 248M1223.8 211.7L1253.3 234.1M1232.5 196.2L1240.6 238.1M1191.2 267L1223.5 260.2M1266.9 217.7L1253.3 234.1M1224.3 278.9L1237.5 258.6M1266.9 217.7L1296.5 240.3M1275 219.8L1280.1 241.4M1310.8 234.1L1296.5 240.3M1318.6 220.7L1315.7 243.8M1310.8 234.1L1340.5 243.3M1318.6 220.7L1324 244.4M1309.7 257L1340.7 245.4M1348.3 241.2L1333.2 222.1M1333.2 222.1L1362.9 241.6M1300 276.9L1304.8 288M1319.6 278.9L1316.9 263.6M1346.6 264.9L1340.7 245.4M1340.7 245.4L1352.7 261M1359.8 254.4L1355.6 243M1355.6 243L1359.5 252.3M1362.9 241.6L1365.3 247.8" fill="none" stroke="#7b95cd" stroke-width="1" stroke-opacity="0.82" stroke-linecap="round"/>
<path d="M1179.1 352.9L1195.3 323.8M1195.3 323.8L1216.8 288.2M1293.1 294.3L1316.1 340.9M1316.1 340.9L1324.4 365.8M1124.5 341.4L1135.7 306.6M1135.7 306.6L1158.5 316.4M1158.5 316.4L1181.6 314.8M1181.6 314.8L1204.9 308.9M1204.9 308.9L1221.4 282.3M1306 289L1324.5 326.7M1324.5 326.7L1335.5 359.8M1134.4 335.7L1145.7 307.1M1145.7 307.1L1158.9 271.5M1313.8 283.4L1332.7 352.8M1144.7 330.2L1155.6 295.5M1155.6 295.5L1169.4 266.5M1324.7 278.2L1340.8 308.6M1340.8 308.6L1351.8 347.8M1153.7 324.7L1165.2 291.7M1165.2 291.7L1181.9 261.7M1335.4 273.2L1348.6 300M1348.6 300L1359.7 342M1164.8 319.6L1174.5 295.4M1174.5 295.4L1192.8 257M1342.3 268L1356.3 296.6M1356.3 296.6L1368.8 336.4M1174 314.4L1183.8 282.2M1183.8 282.2L1199.9 252.1M1357.3 263.5L1363.8 270.6M1363.8 270.6L1378 331M1166.6 308L1171.9 244.9M1171.9 244.9L1193.2 249.6M1193.2 249.6L1196 246.6M1357 258.1L1371.1 285.2M1371.1 285.2L1381.8 325.3M1186.7 303.9L1197.6 241.6M1364.1 253.3L1378.3 270.5M1378.3 270.5L1389.5 320M1194.9 299L1206.5 237.2M1364.9 248.2L1385 313.9M1165.4 311.3L1171.9 244.9M1171.9 244.9L1176.2 305.4M1130.7 345.2L1135.7 306.6M1135.7 306.6L1145.7 307.1M1145.7 307.1L1155.6 295.5M1155.6 295.5L1165.2 291.7M1165.2 291.7L1174.5 295.4M1174.5 295.4L1183.8 282.2M1183.8 282.2L1193.2 249.6M1193.2 249.6L1194.1 245.9M1212.5 236.6L1215.8 296.7M1153.8 347.2L1158.5 316.4M1158.5 316.4L1164.4 274.3M1234.5 237.6L1237.4 298.1M1174.9 350.5L1181.6 314.8M1181.6 314.8L1189.6 274.8M1253.7 240.2L1257.6 300.4M1194.5 355L1195.3 323.8M1195.3 323.8L1204.9 308.9M1204.9 308.9L1210.7 277.7M1276.2 241.1L1279.6 301.8M1217.2 357.8L1218.7 288.4M1296.7 243.3L1300.9 303.7M1241.1 359.9L1242.5 290.4M1319.8 244.1L1323 305.3M1265.3 362.1L1266.7 292.3M1340.7 246.3L1344.7 307.2M1289.8 364.2L1291.3 294.2M1363.3 247.7L1367.1 308.8M1315.5 365.6L1316.1 340.9M1316.1 340.9L1324.5 326.7M1324.5 326.7L1332.7 352.8M1332.7 352.8L1340.8 308.6M1340.8 308.6L1348.6 300M1348.6 300L1356.3 296.6M1356.3 296.6L1363.8 270.6M1363.8 270.6L1371.1 285.2M1371.1 285.2L1378.3 270.5M1378.3 270.5L1385 313.9M1165.4 311.3L1164.8 309M1164.8 309L1166.6 308M1176.2 305.4L1168.4 307M1168.4 307L1166.6 308M1130.7 345.2L1121.4 344M1121.4 344L1124.5 341.4M1124.5 341.4L1131.1 338.3M1131.1 338.3L1134.4 335.7M1144.7 330.2L1140.2 333.4M1140.2 333.4L1134.4 335.7M1144.7 330.2L1150.1 327.4M1150.1 327.4L1153.7 324.7M1164.8 319.6L1158.5 322M1158.5 322L1153.7 324.7M1174 314.4L1169.7 317.8M1169.7 317.8L1164.8 319.6M1174 314.4L1174.5 312M1174.5 312L1165.4 311.3M1186.7 303.9L1185.1 306.1M1185.1 306.1L1176.2 305.4M1186.7 303.9L1189.7 302.3M1189.7 302.3L1194.9 299M1215.8 296.7L1201.7 296.1M1201.7 296.1L1194.9 299M1153.8 347.2L1142.7 346.6M1142.7 346.6L1130.7 345.2M1237.4 298.1L1221.3 296.9M1221.3 296.9L1215.8 296.7M1174.9 350.5L1164.8 348.4M1164.8 348.4L1153.8 347.2M1257.6 300.4L1252.5 299.5M1252.5 299.5L1237.4 298.1M1194.5 355L1192.1 354.8M1192.1 354.8L1179.1 352.9M1179.1 352.9L1180.4 351.3M1180.4 351.3L1174.9 350.5M1279.6 301.8L1264.9 300.7M1264.9 300.7L1257.6 300.4M1217.2 357.8L1212.2 357.3M1212.2 357.3L1194.5 355M1300.9 303.7L1294.6 303M1294.6 303L1279.6 301.8M1241.1 359.9L1235.9 359.5M1235.9 359.5L1217.2 357.8M1323 305.3L1307.9 304M1307.9 304L1300.9 303.7M1265.3 362.1L1260 361.6M1260 361.6L1241.1 359.9M1344.7 307.2L1338.1 306.4M1338.1 306.4L1323 305.3M1289.8 364.2L1270.6 362.6M1270.6 362.6L1265.3 362.1M1367.1 308.8L1352.9 307.8M1352.9 307.8L1344.7 307.2M1315.5 365.6L1294.9 364.7M1294.9 364.7L1289.8 364.2M1385 313.9L1389.5 309.1M1389.5 309.1L1367.1 308.8M1324.4 365.8L1317.5 365.8M1317.5 365.8L1315.5 365.6M1335.5 359.8L1331.1 362.2M1331.1 362.2L1324.4 365.8M1335.5 359.8L1338.2 357.2M1338.2 357.2L1332.7 352.8M1351.8 347.8L1348.2 350.6M1348.2 350.6L1332.7 352.8M1359.7 342L1356.3 344.8M1356.3 344.8L1351.8 347.8M1368.8 336.4L1363.5 338.9M1363.5 338.9L1359.7 342M1378 331L1373.9 334.6M1373.9 334.6L1368.8 336.4M1378 331L1381.1 327.8M1381.1 327.8L1381.8 325.3M1389.5 320L1386.5 322.8M1386.5 322.8L1381.8 325.3M1389.5 320L1390.8 317.6M1390.8 317.6L1385 313.9M1385 313.9L1385 313.9M1385 313.9L1385 313.9M1121.4 344L1135.7 306.6M1145.7 307.1L1140.2 333.4M1174.5 295.4L1169.7 317.8M1174.5 312L1193.2 249.6M1193.2 249.6L1185.1 306.1M1208.5 236.4L1201.7 296.1M1135.7 306.6L1153.3 273.8M1183.8 282.2L1202.4 249.2M1193.2 249.6L1196 246.1M1228 237.2L1221.3 296.9M1181.6 314.8L1174 275.2M1240.6 238.1L1252.5 299.5M1180.4 351.3L1204.9 308.9M1204.9 308.9L1224.3 278.9M1280.1 241.4L1294.6 303M1315.7 243.8L1307.9 304M1324 244.4L1338.1 306.4M1304.8 288L1332.7 352.8M1332.7 352.8L1319.6 278.9M1356.3 296.6L1346.6 264.9M1352.7 261L1371.1 285.2M1371.1 285.2L1359.8 254.4M1359.5 252.3L1385 313.9M1365.3 247.8L1389.5 309.1M1324.5 326.7L1338.2 357.2M1348.2 350.6L1340.8 308.6M1373.9 334.6L1363.8 270.6M1386.5 322.8L1378.3 270.5M1378.3 270.5L1390.8 317.6" fill="none" stroke="#6380bc" stroke-width="1.1" stroke-opacity="0.82" stroke-linecap="round"/>
<path d="M1100.7 413L1102.7 393.1M1102.7 393.1L1125.6 385.2M1125.6 385.2L1148.7 380.6M1148.7 380.6L1172 365.9M1172 365.9L1179.1 352.9M1324.4 365.8L1341 415.8M1341 415.8L1343.3 436.8M1110 406.7L1113 377M1113 377L1124.5 341.4M1335.5 359.8L1349.1 400.9M1349.1 400.9L1352.1 430M1119.5 400.5L1123.1 364.5M1123.1 364.5L1134.4 335.7M1332.7 352.8L1356.9 399.4M1356.9 399.4L1359.4 423.3M1130 394.5L1132.9 367.7M1132.9 367.7L1144.7 330.2M1351.8 347.8L1364.7 393.6M1364.7 393.6L1367 416.8M1139.2 388.6L1142.6 356.6M1142.6 356.6L1153.7 324.7M1359.7 342L1372.2 388.9M1372.2 388.9L1374.4 410.4M1148.6 382.8L1152.1 351M1152.1 351L1164.8 319.6M1368.8 336.4L1379.6 370.9M1379.6 370.9L1382.8 404.2M1158.8 377.2L1161.2 356.4M1161.2 356.4L1174 314.4M1378 331L1386.8 368.7M1386.8 368.7L1389.7 398.1M1161.3 371L1166.6 308M1381.8 325.3L1393.9 370.1M1393.9 370.1L1396.1 392M1176.7 366.2L1179.1 346.7M1179.1 346.7L1186.7 303.9M1389.5 320L1400.8 369.7M1400.8 369.7L1402.5 386.1M1184.9 360.8L1187.9 336.2M1187.9 336.2L1194.9 299M1385 313.9L1407.5 380.2M1194.6 355.6L1196.2 343.3M1196.2 343.3L1217.5 329.4M1217.5 329.4L1238.8 328.3M1238.8 328.3L1260 338.4M1260 338.4L1281.6 337.6M1281.6 337.6L1303.2 339.9M1303.2 339.9L1325.1 346.8M1325.1 346.8L1347.1 346M1347.1 346L1369.3 343.8M1369.3 343.8L1391.9 315.2M1391.9 315.2L1407.8 374M1101.9 413.8L1102.7 393.1M1102.7 393.1L1113 377M1113 377L1123.1 364.5M1123.1 364.5L1132.9 367.7M1132.9 367.7L1142.6 356.6M1142.6 356.6L1152.1 351M1152.1 351L1161.2 356.4M1161.2 356.4L1165.4 311.3M1176.2 305.4L1179.1 346.7M1179.1 346.7L1187.9 336.2M1187.9 336.2L1196.2 343.3M1196.2 343.3L1196.5 355.4M1124.4 416.3L1125.6 385.2M1125.6 385.2L1130.7 345.2M1215.8 296.7L1217.5 329.4M1217.5 329.4L1218.1 356.9M1147.3 418.8L1148.7 380.6M1148.7 380.6L1153.8 347.2M1237.4 298.1L1238.8 328.3M1238.8 328.3L1239.4 358.6M1170.2 421.4L1172 365.9M1172 365.9L1174.9 350.5M1257.6 300.4L1260 338.4M1260 338.4L1260.5 360.6M1192.6 424.5L1194.5 355M1279.6 301.8L1281.6 337.6M1281.6 337.6L1282.2 362.4M1215.7 427.4L1217.2 357.8M1300.9 303.7L1303.2 339.9M1303.2 339.9L1303.9 364.3M1239.6 429.8L1241.1 359.9M1323 305.3L1325.1 346.8M1325.1 346.8L1325.6 366.3M1263.8 432.1L1265.3 362.1M1344.7 307.2L1347.1 346M1347.1 346L1347.7 368.1M1288.3 434.5L1289.8 364.2M1367.1 308.8L1369.3 343.8M1369.3 343.8L1370 370M1313.7 436.3L1315.5 365.6M1385 313.9L1391.9 315.2M1391.9 315.2L1393.1 371.3M1340.3 437.2L1341 415.8M1341 415.8L1349.1 400.9M1349.1 400.9L1356.9 399.4M1356.9 399.4L1364.7 393.6M1364.7 393.6L1372.2 388.9M1372.2 388.9L1379.6 370.9M1379.6 370.9L1386.8 368.7M1386.8 368.7L1393.9 370.1M1393.9 370.1L1400.8 369.7M1400.8 369.7L1407.5 380.2M1101.9 413.8L1099.8 413.6M1099.8 413.6L1100.7 413M1100.7 413L1108.7 407.5M1108.7 407.5L1110 406.7M1110 406.7L1117.9 401.4M1117.9 401.4L1119.5 400.5M1130 394.5L1121 399.5M1121 399.5L1119.5 400.5M1130 394.5L1137.8 389.4M1137.8 389.4L1139.2 388.6M1139.2 388.6L1147.3 383.6M1147.3 383.6L1148.6 382.8M1158.8 377.2L1149.9 381.9M1149.9 381.9L1148.6 382.8M1158.8 377.2L1157.7 373.2M1157.7 373.2L1161.3 371M1176.7 366.2L1164.9 368.8M1164.9 368.8L1161.3 371M1176.7 366.2L1183.9 361.4M1183.9 361.4L1184.9 360.8M1194.6 355.6L1186 360.1M1186 360.1L1184.9 360.8M1196.5 355.4L1195.1 355.3M1195.1 355.3L1194.6 355.6M1124.4 416.3L1121.4 416M1121.4 416L1101.9 413.8M1218.1 356.9L1215.3 356.6M1215.3 356.6L1196.5 355.4M1147.3 418.8L1143.7 418.4M1143.7 418.4L1124.4 416.3M1239.4 358.6L1236.4 358.4M1236.4 358.4L1218.1 356.9M1170.2 421.4L1165.2 420.9M1165.2 420.9L1147.3 418.8M1260.5 360.6L1242.5 358.9M1242.5 358.9L1239.4 358.6M1192.6 424.5L1184.9 423.7M1184.9 423.7L1170.2 421.4M1282.2 362.4L1279.6 362.2M1279.6 362.2L1260.5 360.6M1215.7 427.4L1206 426.4M1206 426.4L1192.6 424.5M1303.9 364.3L1284.8 362.7M1284.8 362.7L1282.2 362.4M1239.6 429.8L1229.7 428.8M1229.7 428.8L1215.7 427.4M1325.6 366.3L1306.4 364.5M1306.4 364.5L1303.9 364.3M1263.8 432.1L1253.8 431.2M1253.8 431.2L1239.6 429.8M1347.7 368.1L1345.3 367.9M1345.3 367.9L1325.6 366.3M1288.3 434.5L1273.9 433.1M1273.9 433.1L1263.8 432.1M1370 370L1367.3 369.7M1367.3 369.7L1347.7 368.1M1313.7 436.3L1298.2 435.5M1298.2 435.5L1288.3 434.5M1393.1 371.3L1388 370.9M1388 370.9L1370 370M1340.3 437.2L1321.4 437M1321.4 437L1313.7 436.3M1407.5 380.2L1406.5 375.5M1406.5 375.5L1407.8 374M1407.8 374L1398.3 371.7M1398.3 371.7L1393.1 371.3M1343.3 436.8L1342.5 437.4M1342.5 437.4L1340.3 437.2M1352.1 430L1351.1 430.9M1351.1 430.9L1343.3 436.8M1352.1 430L1353 429.2M1353 429.2L1359.4 423.3M1359.4 423.3L1360.2 422.6M1360.2 422.6L1367 416.8M1367 416.8L1367.8 416.1M1367.8 416.1L1374.4 410.4M1382.8 404.2L1381.8 405.1M1381.8 405.1L1374.4 410.4M1382.8 404.2L1383.9 403.3M1383.9 403.3L1389.7 398.1M1389.7 398.1L1390.6 397.3M1390.6 397.3L1396.1 392M1396.1 392L1396.8 391.4M1396.8 391.4L1402.5 386.1M1402.5 386.1L1403 385.6M1403 385.6L1407.5 380.2M1407.5 380.2L1407.5 380.2M1407.5 380.2L1407.5 380.2M1102.7 393.1L1121.4 344M1140.2 333.4L1132.9 367.7M1169.7 317.8L1161.2 356.4M1161.2 356.4L1174.5 312M1185.1 306.1L1179.1 346.7M1201.7 296.1L1196.2 343.3M1221.3 296.9L1217.5 329.4M1252.5 299.5L1260 338.4M1172 365.9L1180.4 351.3M1294.6 303L1303.2 339.9M1307.9 304L1303.2 339.9M1338.1 306.4L1347.1 346M1389.5 309.1L1391.9 315.2M1338.2 357.2L1356.9 399.4M1356.9 399.4L1348.2 350.6M1379.6 370.9L1373.9 334.6M1393.9 370.1L1386.5 322.8M1390.8 317.6L1407.5 380.2M1385 313.9L1406.5 375.5" fill="none" stroke="#526da8" stroke-width="1.2" stroke-opacity="0.82" stroke-linecap="round"/>
<path d="M1094 479.4L1100.7 413M1343.3 436.8L1350.8 506.8M1103.4 472.5L1110 406.7M1352.1 430L1359.2 499.5M1112.9 465.8L1119.5 400.5M1359.4 423.3L1366.6 492.3M1123.1 459.3L1130 394.5M1367 416.8L1374.1 485.2M1132.3 452.9L1139.2 388.6M1374.4 410.4L1381.4 478.3M1141.6 446.6L1148.6 382.8M1382.8 404.2L1389.4 471.5M1151.3 440.5L1158.8 377.2M1389.7 398.1L1396.3 464.8M1156 434L1161.3 371M1396.1 392L1402.8 458.3M1169.2 428.5L1176.7 366.2M1402.5 386.1L1409.3 451.8M1177.5 422.6L1184.9 360.8M1407.5 380.2L1414.8 445.4M1186.7 417L1194.6 355.6M1407.8 374L1414 396.9M1414 396.9L1419.4 439.1M1099 483.1L1101.9 413.8M1196.5 355.4L1197.8 415.6M1121.8 485.7L1124.4 416.3M1218.1 356.9L1219.3 417.3M1144.8 488.3L1147.3 418.8M1239.4 358.6L1240.7 419.3M1167.9 491.1L1170.2 421.4M1260.5 360.6L1262 421.5M1190.8 494.2L1192.6 424.5M1282.2 362.4L1283.6 423.5M1214.1 497.2L1215.7 427.4M1303.9 364.3L1305.4 425.5M1238.1 499.8L1239.6 429.8M1325.6 366.3L1327.2 427.7M1262.3 502.4L1263.8 432.1M1347.7 368.1L1349.3 429.7M1286.8 505L1288.3 434.5M1370 370L1371.6 431.7M1311.9 507.2L1313.7 436.3M1393.1 371.3L1394.5 433.4M1337.9 508.7L1340.3 437.2M1407.5 380.2L1414 396.9M1414 396.9L1415.5 437M1099 483.1L1089.9 482.1M1089.9 482.1L1094 479.4M1094 479.4L1099.2 475.4M1099.2 475.4L1103.4 472.5M1103.4 472.5L1108.6 468.7M1108.6 468.7L1112.9 465.8M1123.1 459.3L1117.1 462.9M1117.1 462.9L1112.9 465.8M1123.1 459.3L1128.2 455.6M1128.2 455.6L1132.3 452.9M1132.3 452.9L1137.6 449.3M1137.6 449.3L1141.6 446.6M1151.3 440.5L1145.5 443.9M1145.5 443.9L1141.6 446.6M1151.3 440.5L1150.6 437.6M1150.6 437.6L1156 434M1169.2 428.5L1161.3 430.4M1161.3 430.4L1156 434M1169.2 428.5L1173.9 425M1173.9 425L1177.5 422.6M1186.7 417L1181 420.3M1181 420.3L1177.5 422.6M1197.8 415.6L1189.9 414.8M1189.9 414.8L1186.7 417M1121.8 485.7L1112 484.7M1112 484.7L1099 483.1M1219.3 417.3L1210.4 416.5M1210.4 416.5L1197.8 415.6M1144.8 488.3L1134.7 487.2M1134.7 487.2L1121.8 485.7M1240.7 419.3L1231.5 418.4M1231.5 418.4L1219.3 417.3M1167.9 491.1L1156.8 489.9M1156.8 489.9L1144.8 488.3M1262 421.5L1249.8 420.2M1249.8 420.2L1240.7 419.3M1190.8 494.2L1177.8 492.8M1177.8 492.8L1167.9 491.1M1283.6 423.5L1274.7 422.6M1274.7 422.6L1262 421.5M1214.1 497.2L1199.7 495.6M1199.7 495.6L1190.8 494.2M1305.4 425.5L1292.6 424.3M1292.6 424.3L1283.6 423.5M1238.1 499.8L1223.5 498.2M1223.5 498.2L1214.1 497.2M1327.2 427.7L1314.4 426.4M1314.4 426.4L1305.4 425.5M1262.3 502.4L1247.5 500.8M1247.5 500.8L1238.1 499.8M1349.3 429.7L1340.4 428.9M1340.4 428.9L1327.2 427.7M1286.8 505L1277.2 504M1277.2 504L1262.3 502.4M1371.6 431.7L1362.4 430.9M1362.4 430.9L1349.3 429.7M1311.9 507.2L1301.6 506.6M1301.6 506.6L1286.8 505M1394.5 433.4L1383.6 432.4M1383.6 432.4L1371.6 431.7M1337.9 508.7L1325.2 508.6M1325.2 508.6L1311.9 507.2M1415.5 437L1405.5 434.5M1405.5 434.5L1394.5 433.4M1350.8 506.8L1347.7 509.8M1347.7 509.8L1337.9 508.7M1359.2 499.5L1355.9 502.6M1355.9 502.6L1350.8 506.8M1359.2 499.5L1362.4 496.5M1362.4 496.5L1366.6 492.3M1366.6 492.3L1369.6 489.4M1369.6 489.4L1374.1 485.2M1374.1 485.2L1377.1 482.4M1377.1 482.4L1381.4 478.3M1389.4 471.5L1386.3 474.4M1386.3 474.4L1381.4 478.3M1389.4 471.5L1392.4 468.7M1392.4 468.7L1396.3 464.8M1396.3 464.8L1399.2 462.1M1399.2 462.1L1402.8 458.3M1402.8 458.3L1405.5 455.7M1405.5 455.7L1409.3 451.8M1409.3 451.8L1411.9 449.4M1411.9 449.4L1414.8 445.4M1414.8 445.4L1417 443.3M1417 443.3L1419.4 439.1M1419.4 439.1L1421 437.6M1421 437.6L1415.5 437M1406.5 375.5L1414 396.9" fill="none" stroke="#486198" stroke-width="1.2" stroke-opacity="0.82" stroke-linecap="round"/>
<path d="M1087.2 545.6L1094 479.4M1350.8 506.8L1358.3 577M1096.8 538.3L1103.4 472.5M1359.2 499.5L1366.3 569.2M1106.3 531.1L1112.9 465.8M1366.6 492.3L1373.7 561.4M1116.1 524.1L1123.1 459.3M1374.1 485.2L1381.1 553.8M1125.3 517.1L1132.3 452.9M1381.4 478.3L1388.4 546.3M1134.5 510.3L1141.6 446.6M1389.4 471.5L1395.9 539M1143.9 503.7L1151.3 440.5M1396.3 464.8L1402.8 531.8M1150.6 496.9L1156 434M1402.8 458.3L1409.5 524.7M1161.5 490.7L1169.2 428.5M1409.3 451.8L1416.1 517.7M1169.9 484.4L1177.5 422.6M1414.8 445.4L1422.2 510.8M1178.8 478.2L1186.7 417M1419.4 439.1L1427.8 504M1096.2 552.6L1099 483.1M1197.8 415.6L1199 475.5M1119.2 555.4L1121.8 485.7M1219.3 417.3L1220.4 477.5M1142.4 558.2L1144.8 488.3M1240.7 419.3L1241.9 479.7M1165.7 561.1L1167.9 491.1M1262 421.5L1263.3 482M1189 564.2L1190.8 494.2M1283.6 423.5L1285 484.2M1212.6 567.2L1214.1 497.2M1305.4 425.5L1306.8 486.4M1236.6 570L1238.1 499.8M1327.2 427.7L1328.7 488.7M1260.8 572.8L1262.3 502.4M1349.3 429.7L1350.9 491M1285.2 575.7L1286.8 505M1371.6 431.7L1373.2 493.2M1310.1 578.3L1311.9 507.2M1394.5 433.4L1395.9 495.3M1335.4 580.6L1337.9 508.7M1415.5 437L1417.6 498.4M1096.2 552.6L1080.2 550.7M1080.2 550.7L1087.2 545.6M1087.2 545.6L1089.8 543.4M1089.8 543.4L1096.8 538.3M1096.8 538.3L1099.3 536.2M1099.3 536.2L1106.3 531.1M1116.1 524.1L1113.2 526M1113.2 526L1106.3 531.1M1116.1 524.1L1118.6 522.1M1118.6 522.1L1125.3 517.1M1125.3 517.1L1128 515.2M1128 515.2L1134.5 510.3M1143.9 503.7L1141 505.6M1141 505.6L1134.5 510.3M1143.9 503.7L1143.5 502.2M1143.5 502.2L1150.6 496.9M1161.5 490.7L1157.6 491.8M1157.6 491.8L1150.6 496.9M1161.5 490.7L1163.9 488.8M1163.9 488.8L1169.9 484.4M1178.8 478.2L1175.9 480M1175.9 480L1169.9 484.4M1199 475.5L1184.5 474M1184.5 474L1178.8 478.2M1119.2 555.4L1102.7 553.5M1102.7 553.5L1096.2 552.6M1220.4 477.5L1205.3 476M1205.3 476L1199 475.5M1142.4 558.2L1125.6 556.3M1125.6 556.3L1119.2 555.4M1241.9 479.7L1226.6 478.1M1226.6 478.1L1220.4 477.5M1165.7 561.1L1148.4 559.1M1148.4 559.1L1142.4 558.2M1263.3 482L1257.2 481.3M1257.2 481.3L1241.9 479.7M1189 564.2L1170.6 562M1170.6 562L1165.7 561.1M1285 484.2L1269.7 482.6M1269.7 482.6L1263.3 482M1212.6 567.2L1193.5 564.9M1193.5 564.9L1189 564.2M1306.8 486.4L1300.4 485.8M1300.4 485.8L1285 484.2M1236.6 570L1217.3 567.7M1217.3 567.7L1212.6 567.2M1328.7 488.7L1322.3 488M1322.3 488L1306.8 486.4M1260.8 572.8L1241.3 570.6M1241.3 570.6L1236.6 570M1350.9 491L1335.3 489.4M1335.3 489.4L1328.7 488.7M1285.2 575.7L1280.4 575.1M1280.4 575.1L1260.8 572.8M1373.2 493.2L1357.4 491.6M1357.4 491.6L1350.9 491M1310.1 578.3L1304.9 578M1304.9 578L1285.2 575.7M1395.9 495.3L1379.2 493.6M1379.2 493.6L1373.2 493.2M1335.4 580.6L1329.1 580.5M1329.1 580.5L1310.1 578.3M1417.6 498.4L1412.6 497M1412.6 497L1395.9 495.3M1358.3 577L1352.8 582.6M1352.8 582.6L1335.4 580.6M1366.3 569.2L1360.8 574.7M1360.8 574.7L1358.3 577M1366.3 569.2L1371.7 563.7M1371.7 563.7L1373.7 561.4M1373.7 561.4L1378.9 556M1378.9 556L1381.1 553.8M1381.1 553.8L1386.3 548.5M1386.3 548.5L1388.4 546.3M1395.9 539L1390.8 544.2M1390.8 544.2L1388.4 546.3M1395.9 539L1401 533.8M1401 533.8L1402.8 531.8M1402.8 531.8L1407.8 526.7M1407.8 526.7L1409.5 524.7M1409.5 524.7L1414.3 519.8M1414.3 519.8L1416.1 517.7M1416.1 517.7L1420.8 513M1420.8 513L1422.2 510.8M1422.2 510.8L1426.6 506.3M1426.6 506.3L1427.8 504M1427.8 504L1431.8 499.9M1431.8 499.9L1417.6 498.4" fill="none" stroke="#42598e" stroke-width="1.3" stroke-opacity="0.82" stroke-linecap="round"/>
<path d="M1080.4 611.7L1087.2 545.6M1358.3 577L1365.7 647.4M1090.1 603.9L1096.8 538.3M1366.3 569.2L1373.4 638.9M1099.7 596.2L1106.3 531.1M1373.7 561.4L1380.8 630.6M1109.1 588.7L1116.1 524.1M1381.1 553.8L1388.2 622.5M1118.3 581.3L1125.3 517.1M1388.4 546.3L1395.4 614.4M1127.4 574L1134.5 510.3M1395.9 539L1402.5 606.6M1136.4 566.8L1143.9 503.7M1402.8 531.8L1409.5 598.8M1145.2 559.8L1150.6 496.9M1409.5 524.7L1416.3 591.2M1153.8 552.8L1161.5 490.7M1416.1 517.7L1423.1 583.7M1162.4 546L1169.9 484.4M1422.2 510.8L1429.7 576.4M1170.7 539.3L1178.8 478.2M1427.8 504L1436.2 569.1M1179 532.7L1200.2 535.1M1200.2 535.1L1221.5 537.4M1221.5 537.4L1243 539.8M1243 539.8L1264.6 542.2M1264.6 542.2L1286.3 544.6M1286.3 544.6L1308.2 547.1M1308.2 547.1L1330.2 549.5M1330.2 549.5L1352.4 552M1352.4 552L1374.7 554.5M1374.7 554.5L1397.2 557M1397.2 557L1419.8 559.5M1419.8 559.5L1442.6 562M1070.5 619.6L1080.4 611.7M1080.4 611.7L1090.1 603.9M1090.1 603.9L1099.7 596.2M1099.7 596.2L1109.1 588.7M1109.1 588.7L1118.3 581.3M1118.3 581.3L1127.4 574M1127.4 574L1136.4 566.8M1136.4 566.8L1145.2 559.8M1145.2 559.8L1153.8 552.8M1153.8 552.8L1162.4 546M1162.4 546L1170.7 539.3M1170.7 539.3L1179 532.7M1093.5 622.5L1096.2 552.6M1199 475.5L1200.2 535.1M1116.7 625.4L1119.2 555.4M1220.4 477.5L1221.5 537.4M1140 628.4L1142.4 558.2M1241.9 479.7L1243 539.8M1163.5 631.4L1165.7 561.1M1263.3 482L1264.6 542.2M1187.2 634.4L1189 564.2M1285 484.2L1286.3 544.6M1211.1 637.4L1212.6 567.2M1306.8 486.4L1308.2 547.1M1235.1 640.4L1236.6 570M1328.7 488.7L1330.2 549.5M1259.3 643.5L1260.8 572.8M1350.9 491L1352.4 552M1283.7 646.6L1285.2 575.7M1373.2 493.2L1374.7 554.5M1308.3 649.7L1310.1 578.3M1395.9 495.3L1397.2 557M1333.1 652.8L1335.4 580.6M1417.6 498.4L1419.8 559.5" fill="none" stroke="#3f5486" stroke-width="1.3" stroke-opacity="0.82" stroke-linecap="round"/>
</g>
<g id="ticks" font-family="'Liberation Sans', sans-serif" fill="#8a8a8a" text-anchor="middle">
<text x="140.3" y="522.3" font-size="32">1</text>
<text x="127.8" y="559.5" font-size="32">0.5</text>
<text x="145.4" y="595.5" font-size="32">0</text>
<text x="190.9" y="628.1" font-size="33" transform="rotate(-86 190.9 616.3)">0</text>
<text x="248" y="635.4" font-size="33" transform="rotate(-84 248 623.6)">2</text>
<text x="311" y="667.6" font-size="33" transform="rotate(-90 311 655.8)">12.5</text>
<text x="378.4" y="662.5" font-size="33" transform="rotate(-90 378.4 650.7)">23</text>
<text x="452.5" y="671.6" font-size="33" transform="rotate(-90 452.5 659.8)">25</text>
<text x="491.8" y="629.2" font-size="32">0</text>
<text x="545.2" y="467.6" font-size="32.5">1.5</text>
<text x="561.8" y="515.9" font-size="32.5">1</text>
<text x="550" y="563.1" font-size="32.5">0.5</text>
<text x="567" y="608.3" font-size="32.5">0</text>
<text x="612.4" y="641.9" font-size="34" transform="rotate(-87 612.4 629.7)">0</text>
<text x="677" y="650.7" font-size="34" transform="rotate(-84 677 638.5)">2</text>
<text x="745.6" y="683" font-size="34" transform="rotate(-90 745.6 670.8)">12.5</text>
<text x="819" y="679.2" font-size="34" transform="rotate(-90 819 667)">23</text>
<text x="896.7" y="689.6" font-size="34" transform="rotate(-90 896.7 677.4)">25</text>
<text x="939.3" y="646.1" font-size="32.5">0</text>
<text x="982" y="589.6" font-size="32.5">16</text>
<text x="1025.8" y="632.6" font-size="32.5">0</text>
<text x="1025" y="567" font-size="32.5">1</text>
<text x="1023.3" y="502.1" font-size="32.5">2</text>
<text x="1022.8" y="434.8" font-size="32.5">3</text>
<text x="1022" y="367.6" font-size="32.5">4</text>
<text x="1018" y="297.8" font-size="32.5">5</text>
<text x="1017.6" y="228.6" font-size="32.5">6</text>
<text x="1017" y="157.6" font-size="32.5">7</text>
<text x="1070.5" y="664.8" font-size="33" transform="rotate(-87 1070.5 653)">0</text>
<text x="1140.3" y="674.8" font-size="33" transform="rotate(-84 1140.3 663)">2</text>
<text x="1210.3" y="707.3" font-size="33" transform="rotate(-90 1210.3 695.5)">12.5</text>
<text x="1282.6" y="702.3" font-size="33" transform="rotate(-90 1282.6 690.5)">23</text>
<text x="1355.4" y="712.3" font-size="33" transform="rotate(-90 1355.4 700.5)">25</text>
<text x="1402.3" y="670.6" font-size="32.5">0</text>
<text x="1465.4" y="611.5" font-size="32.5">16</text>
</g>
<g id="titles" font-family="'Liberation Serif', serif" fill="#111" text-anchor="middle">
<text x="315" y="66" font-size="41.5">CALIB1</text><text x="316" y="120.5" font-size="43.6">v<tspan font-size="28" dy="8">a</tspan><tspan dy="-8">=0(m/s)</tspan></text><text x="316" y="174" font-size="43.6">Q<tspan font-size="28" dy="8">v</tspan><tspan dy="-8">=0(m</tspan><tspan font-size="25" dy="-14">3</tspan><tspan dy="14">/s)</tspan></text>
<text x="752" y="66" font-size="41.5">CALIB2</text><text x="753" y="120.5" font-size="43.6">v<tspan font-size="28" dy="8">a</tspan><tspan dy="-8">=1.0(m/s)</tspan></text><text x="753" y="174" font-size="43.6">Q<tspan font-size="28" dy="8">v</tspan><tspan dy="-8">=0.060(m</tspan><tspan font-size="25" dy="-14">3</tspan><tspan dy="14">/s)</tspan></text>
<text x="1226" y="64" font-size="41.5">CALIB3</text><text x="1227" y="119.5" font-size="43.6">v<tspan font-size="28" dy="8">a</tspan><tspan dy="-8">=4.5(m/s)</tspan></text><text x="1227" y="171.5" font-size="43.6">Q<tspan font-size="28" dy="8">v</tspan><tspan dy="-8">=0.270(m</tspan><tspan font-size="25" dy="-14">3</tspan><tspan dy="14">/s)</tspan></text>
</g>
<g id="axistext" font-family="'Liberation Serif', serif" font-size="42" fill="#111">
<text transform="translate(66.3 662.5) rotate(-90) scale(1 1.07)">velocity<tspan dx="5"> of</tspan><tspan dx="12"> the</tspan><tspan dx="5"> extracted</tspan><tspan dx="4"> air</tspan><tspan dx="6"> (m/s)</tspan></text>
<text transform="translate(225 546.5) rotate(-30.1)" font-size="42.6">exhaust<tspan dx="3"> air</tspan><tspan dx="2"> outlet</tspan><tspan dx="5"> height(cm)</tspan></text>
<text transform="translate(156 732) rotate(6.9)">exhaustic<tspan dx="6"> air</tspan><tspan dx="3"> outlet</tspan><tspan dx="4"> <tspan font-size="43">width(cm)</tspan></tspan></text>
</g>
</svg>
</body>
</html>
